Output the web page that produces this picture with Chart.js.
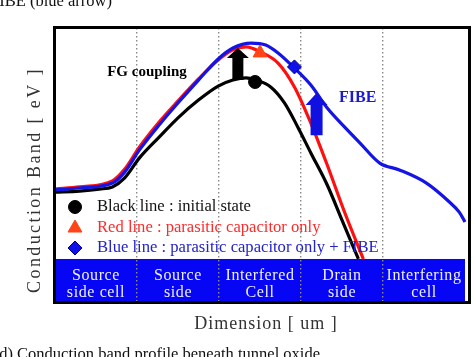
<!DOCTYPE html>
<html><head><meta charset="utf-8">
<script src="https://cdn.jsdelivr.net/npm/chart.js@4/dist/chart.umd.min.js"></script>
<style>html,body{margin:0;padding:0;background:#fff;overflow:hidden}</style>
</head><body>
<canvas id="c" width="474" height="357"></canvas>
<script>
// ---- data (x in cell sections 0..5, y in arbitrary eV units 0..100) ----
const blackX = [0,0.30,0.54,0.70,0.85,1.03,1.27,1.51,1.75,1.99,2.17,2.33,2.45,2.63,2.80,2.96,3.12,3.32,3.50,3.70];
const blackY = [40.1,40.5,41.2,42.0,45.3,52.6,60.2,67.5,73.7,78.8,81.0,81.8,81.0,78.5,72.6,63.9,54.4,42.7,29.9,15.7];
const redX = [0,0.30,0.70,0.85,1.03,1.27,1.51,1.75,1.99,2.17,2.33,2.51,2.72,2.92,3.12,3.32,3.54,3.76];
const redY = [41.2,42.0,44.2,48.5,56.6,65.7,73.7,81.4,88.3,92.0,93.1,91.2,87.2,78.5,65.3,50.0,32.1,15.7];
const blueX = [0,0.30,0.70,0.85,1.03,1.27,1.51,1.75,1.99,2.17,2.39,2.57,2.72,2.92,3.12,3.32,3.53,3.72,3.96,4.20,4.53,4.81,4.93,5.00];
const blueY = [40.9,41.6,43.4,47.4,55.5,64.6,73.0,81.0,88.7,92.7,94.5,93.8,90.9,85.4,79.2,70.8,63.9,58.0,50.7,48.2,43.4,36.5,32.8,29.2];
const markerX = [2.44, 2.50, 2.92];
const markerY = [80.3, 90.9, 85.8];
const arrowX = [2.23, 3.19];
const arrowFrom = [81.0, 60.9];
const arrowTo = [92.7, 76.3];
const xTicks = [0,1,2,3,4,5];
const bandTop = 15.7;
const regionTop = ['Source','Source','Interfered','Drain','Interfering'];
const regionBottom = ['side cell','side','Cell','side','cell'];
const legendLabels = ['Black line : initial state','Red line : parasitic capacitor only','Blue line : parasitic capacitor only + FIBE'];
const yTitle = 'Conduction Band [ eV ]';
const xTitle = 'Dimension [ um ]';
const topCaption = 'FIBE (blue arrow)';
const bottomCaption = '(d) Conduction band profile beneath tunnel oxide';

const SERIF = '"Liberation Serif", "Times New Roman", serif';
const toPts = (xs, ys) => xs.map((v, i) => ({x: v, y: ys[i]}));

function drawArrow(ctx, x, y0, y1, shaftW, headW, headH, color) {
  ctx.save();
  ctx.fillStyle = color;
  ctx.beginPath();
  ctx.moveTo(x - shaftW/2, y0);
  ctx.lineTo(x - shaftW/2, y1 + headH);
  ctx.lineTo(x - headW/2, y1 + headH);
  ctx.lineTo(x, y1);
  ctx.lineTo(x + headW/2, y1 + headH);
  ctx.lineTo(x + shaftW/2, y1 + headH);
  ctx.lineTo(x + shaftW/2, y0);
  ctx.closePath();
  ctx.fill();
  ctx.restore();
}

const overlay = {
  id: 'overlay',
  beforeDraw(chart) {
    const {ctx, scales: {x, y}} = chart;
    const l = x.getPixelForValue(0), r = x.getPixelForValue(5);
    const t = y.getPixelForValue(bandTop), b = y.getPixelForValue(0);
    ctx.save();
    ctx.fillStyle = '#0606f5';
    ctx.fillRect(l, t, r - l, b - t);
    ctx.restore();
  },
  afterDraw(chart) {
    const {ctx, scales: {x, y}, chartArea: ca} = chart;
    ctx.save();
    // band labels
    ctx.fillStyle = '#eef0ff';
    ctx.font = '16px ' + SERIF;
    ctx.textAlign = 'center';
    ctx.textBaseline = 'middle';
    ctx.letterSpacing = '0.6px';
    regionTop.forEach((s, i) => {
      const cx = x.getPixelForValue(i + 0.5);
      ctx.fillText(s, cx, 276);
      ctx.fillText(regionBottom[i], cx, 293);
    });
    ctx.letterSpacing = '0px';
    // arrows
    drawArrow(ctx, x.getPixelForValue(arrowX[0]), y.getPixelForValue(arrowFrom[0]), y.getPixelForValue(arrowTo[0]), 11, 22, 10, '#000');
    drawArrow(ctx, x.getPixelForValue(arrowX[1]), y.getPixelForValue(arrowFrom[1]), y.getPixelForValue(arrowTo[1]), 12, 22, 12, '#1010e0');
    // annotations
    ctx.font = 'bold 15px ' + SERIF;
    ctx.fillStyle = '#000';
    ctx.textAlign = 'center';
    ctx.fillText('FG coupling', 147, 72);
    ctx.font = 'bold 16px ' + SERIF;
    ctx.fillStyle = '#1a1ad2';
    ctx.textAlign = 'left';
    ctx.fillText('FIBE', 339, 98);
    // legend
    const rows = [207, 228, 248];
    const styles = [
      {ps: 'circle', r: 6.5, fill: '#000', stroke: '#000'},
      {ps: 'triangle', r: 8, fill: '#ff4418', stroke: '#ff4418'},
      {ps: 'rectRot', r: 7, fill: '#1010e8', stroke: '#00008b'}
    ];
    const tcol = ['#111', '#ff2a2a', '#2222cc'];
    ctx.font = '16.6px ' + SERIF;
    legendLabels.forEach((s, i) => {
      ctx.fillStyle = styles[i].fill;
      ctx.strokeStyle = styles[i].stroke;
      Chart.helpers.drawPoint(ctx, {pointStyle: styles[i].ps, radius: styles[i].r, rotation: 0, borderWidth: 1}, 75, rows[i]);
      ctx.fillStyle = tcol[i];
      ctx.textAlign = 'left';
      ctx.textBaseline = 'middle';
      ctx.fillText(s, 97, rows[i]);
    });
    // frame
    ctx.strokeStyle = '#000';
    ctx.lineWidth = 3;
    ctx.strokeRect(54.5, 27.5, 415, 275);
    // axis titles
    ctx.fillStyle = '#333';
    ctx.font = '18px ' + SERIF;
    ctx.textAlign = 'center';
    ctx.textBaseline = 'middle';
    ctx.letterSpacing = '1px';
    ctx.fillText(xTitle, 266, 324);
    ctx.save();
    ctx.translate(35, 180);
    ctx.rotate(-Math.PI / 2);
    ctx.letterSpacing = '2.4px';
    ctx.fillText(yTitle, 0, 0);
    ctx.restore();
    ctx.letterSpacing = '0px';
    // captions (cropped at page edges)
    ctx.fillStyle = '#111';
    ctx.font = '16.5px ' + SERIF;
    ctx.textBaseline = 'alphabetic';
    ctx.textAlign = 'right';
    ctx.fillText(topCaption, 112, 6);
    ctx.fillText(bottomCaption, 320, 359);
    ctx.restore();
  }
};

const lineDs = (label, xs, ys, color, order) => ({
  label, data: toPts(xs, ys), showLine: true, borderColor: color, backgroundColor: color,
  borderWidth: 3.2, pointRadius: 0, cubicInterpolationMode: 'monotone', order, clip: false
});

new Chart(document.getElementById('c'), {
  type: 'scatter',
  data: {
    datasets: [
      {label: 'markers-black', data: [{x: markerX[0], y: markerY[0]}], pointStyle: 'circle', pointRadius: 6.5,
       backgroundColor: '#000', borderColor: '#000', order: 0},
      {label: 'markers-red', data: [{x: markerX[1], y: markerY[1]}], pointStyle: 'triangle', pointRadius: 8,
       backgroundColor: '#ff4418', borderColor: '#ff4418', order: 0},
      {label: 'markers-blue', data: [{x: markerX[2], y: markerY[2]}], pointStyle: 'rectRot', pointRadius: 7,
       backgroundColor: '#1010e8', borderColor: '#00008b', borderWidth: 1, order: 0},
      lineDs('Blue', blueX, blueY, '#1414e6', 1),
      lineDs('Red', redX, redY, '#ff1010', 2),
      lineDs('Black', blackX, blackY, '#000000', 3)
    ]
  },
  options: {
    responsive: false,
    devicePixelRatio: 1,
    animation: false,
    layout: {padding: {left: 55, top: 28, right: 5, bottom: 55}},
    plugins: {legend: {display: false}, tooltip: {enabled: false}},
    scales: {
      x: {
        type: 'linear', min: 0, max: 5,
        afterBuildTicks: (s) => { s.ticks = xTicks.map(v => ({value: v})); },
        afterFit: (s) => { s.height = 0; },
        ticks: {display: false},
        border: {display: false, dash: [1.5, 2.5]},
        grid: {drawTicks: false, lineWidth: 1.4,
               color: (c) => (c.tick && c.tick.value > 0 && c.tick.value < 5) ? '#8a8a8a' : 'rgba(0,0,0,0)'}
      },
      y: {type: 'linear', min: 0, max: 100, display: false}
    }
  },
  plugins: [overlay]
});
</script>
</body></html>
